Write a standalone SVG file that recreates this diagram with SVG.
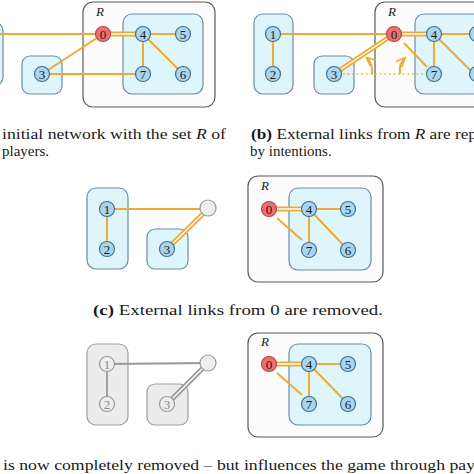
<svg xmlns="http://www.w3.org/2000/svg" width="474" height="474" viewBox="0 0 474 474">
<style>
.rbox{fill:#fcfcfc;stroke:#5a5a5a;stroke-width:1.2}
.bbox{fill:#def6fb;stroke:#6a8ca6;stroke-width:1.2}
.gbox{fill:#ececec;stroke:#a0a0a0;stroke-width:1.2}
.e{stroke:#eeaa33;stroke-width:2;fill:none}
.dbl{stroke:#eeaa33;stroke-width:5;fill:none}
.dblw{stroke:#ffffff;stroke-width:1.4;fill:none}
.ge{stroke:#999999;stroke-width:1.8;fill:none}
.gdbl{stroke:#999999;stroke-width:5;fill:none}
.dot{stroke:#eeaa33;stroke-width:1.6;stroke-dasharray:1.6 3;fill:none}
.n{fill:#a9d5ee;stroke:#45708e;stroke-width:1.2}
.n0{fill:#ef6f6f;stroke:#b84848;stroke-width:1.2}
.ng{fill:#eeeeee;stroke:#9a9a9a;stroke-width:1.2}
.t{font-family:"Liberation Serif","DejaVu Serif",serif;font-size:13px;text-anchor:middle;fill:#1a1a1a}
.tg{font-family:"Liberation Serif","DejaVu Serif",serif;font-size:13px;text-anchor:middle;fill:#8a8a8a}
.R{font-family:"Liberation Serif","DejaVu Serif",serif;font-size:13px;font-style:italic;fill:#1a1a1a}
.cap{font-family:"Liberation Serif","DejaVu Serif",serif;font-size:15px;fill:#1a1a1a}
</style>
<defs>
<marker id="ah" viewBox="0 0 10 10" refX="8" refY="5" markerWidth="5" markerHeight="5" orient="auto">
<path d="M0,1 L9,5 L0,9" fill="none" stroke="#eeaa33" stroke-width="1.6"/>
</marker>
</defs>

<!-- Panel (a) -->
<g id="a-boxes">
<rect class="bbox" x="-40" y="22" width="43" height="64" rx="9"/>
<rect class="rbox" x="83" y="2" width="132" height="105" rx="10"/>
<rect class="bbox" x="123" y="14" width="80" height="80" rx="9"/>
<rect class="bbox" x="22" y="56" width="40" height="38" rx="8"/>
<text class="R" x="96" y="16">R</text>
</g>
<g id="a-connectors">
<line class="e" x1="0" y1="34" x2="103" y2="34"/>
<line class="e" x1="103" y1="34" x2="42" y2="74"/>
<line class="e" x1="42" y1="74" x2="143" y2="74"/>
<line class="dbl" x1="103" y1="34" x2="143" y2="34"/>
<line class="dblw" x1="103" y1="34" x2="143" y2="34"/>
<line class="e" x1="143" y1="34" x2="183" y2="34"/>
<line class="e" x1="143" y1="34" x2="143" y2="74"/>
<line class="e" x1="143" y1="34" x2="183" y2="74"/>
</g>
<g id="a-n0"><circle class="n0" cx="103" cy="34" r="7.5"/><text class="t" x="103" y="38.5">0</text></g>
<g id="a-n4"><circle class="n" cx="143" cy="34" r="7.5"/><text class="t" x="143" y="38.5">4</text></g>
<g id="a-n5"><circle class="n" cx="183" cy="34" r="7.5"/><text class="t" x="183" y="38.5">5</text></g>
<g id="a-n7"><circle class="n" cx="143" cy="74" r="7.5"/><text class="t" x="143" y="78.5">7</text></g>
<g id="a-n6"><circle class="n" cx="183" cy="74" r="7.5"/><text class="t" x="183" y="78.5">6</text></g>
<g id="a-n3"><circle class="n" cx="42" cy="74" r="7.5"/><text class="t" x="42" y="78.5">3</text></g>

<!-- Panel (b) -->
<g id="b-boxes">
<rect class="bbox" x="254" y="14" width="39" height="80" rx="9"/>
<rect class="bbox" x="314" y="56" width="40" height="38" rx="8"/>
<rect class="rbox" x="375" y="2" width="130" height="105" rx="10"/>
<rect class="bbox" x="415" y="14" width="80" height="80" rx="9"/>
<text class="R" x="388" y="16">R</text>
</g>
<g id="b-connectors">
<line class="e" x1="273" y1="34" x2="394" y2="34"/>
<line class="e" x1="273" y1="34" x2="273" y2="74"/>
<line class="dbl" x1="394" y1="34" x2="334" y2="74"/>
<line class="dblw" x1="394" y1="34" x2="334" y2="74"/>
<line class="dbl" x1="394" y1="34" x2="434" y2="34"/>
<line class="dblw" x1="394" y1="34" x2="434" y2="34"/>
<line class="e" x1="434" y1="34" x2="474" y2="34"/>
<line class="e" x1="434" y1="34" x2="434" y2="74"/>
<line class="e" x1="434" y1="34" x2="474" y2="74"/>
<line class="e" x1="404" y1="43" x2="427" y2="67"/>
<line class="dot" x1="343" y1="74" x2="426" y2="74"/>
<path class="e" d="M372,74 C372.5,67 371.5,62 367,58" stroke-width="1.2" marker-end="url(#ah)"/>
<path class="e" d="M400,74 C399.5,67 400,63 404.5,58.5" stroke-width="1.2" marker-end="url(#ah)"/>
</g>
<g id="b-n1"><circle class="n" cx="273" cy="34" r="7.5"/><text class="t" x="273" y="38.5">1</text></g>
<g id="b-n2"><circle class="n" cx="273" cy="74" r="7.5"/><text class="t" x="273" y="78.5">2</text></g>
<g id="b-n3"><circle class="n" cx="334" cy="74" r="7.5"/><text class="t" x="334" y="78.5">3</text></g>
<g id="b-n0"><circle class="n0" cx="394" cy="34" r="7.5"/><text class="t" x="394" y="38.5">0</text></g>
<g id="b-n4"><circle class="n" cx="434" cy="34" r="7.5"/><text class="t" x="434" y="38.5">4</text></g>
<g id="b-n7"><circle class="n" cx="434" cy="74" r="7.5"/><text class="t" x="434" y="78.5">7</text></g>
<g id="b-n5"><circle class="n" cx="477" cy="34" r="7.5"/></g>
<g id="b-n6"><circle class="n" cx="477" cy="74" r="7.5"/></g>

<!-- Captions a, b -->
<text class="cap" x="2" y="139" textLength="224" lengthAdjust="spacingAndGlyphs">initial network with the set <tspan font-style="italic">R</tspan> of</text>
<text class="cap" x="2" y="156">players.</text>
<text class="cap" x="251" y="139" textLength="226" lengthAdjust="spacingAndGlyphs"><tspan font-weight="bold">(b)</tspan> External links from <tspan font-style="italic">R</tspan> are rep</text>
<text class="cap" x="250" y="156">by intentions.</text>

<!-- Panel (c) -->
<g id="c-boxes">
<rect class="bbox" x="87" y="188" width="41" height="81" rx="9"/>
<rect class="bbox" x="147" y="229" width="41" height="40" rx="8"/>
<rect class="rbox" x="248" y="176" width="135" height="106" rx="10"/>
<rect class="bbox" x="289" y="188" width="82" height="82" rx="9"/>
<text class="R" x="261" y="190">R</text>
</g>
<g id="c-connectors">
<line class="e" x1="107" y1="209" x2="208" y2="209"/>
<line class="e" x1="107" y1="209" x2="107" y2="249"/>
<line class="dbl" x1="167" y1="249" x2="208" y2="209"/>
<line class="dblw" x1="167" y1="249" x2="208" y2="209"/>
<line class="dbl" x1="269" y1="209" x2="309" y2="209"/>
<line class="dblw" x1="269" y1="209" x2="309" y2="209"/>
<line class="e" x1="309" y1="209" x2="348" y2="209"/>
<line class="e" x1="309" y1="209" x2="309" y2="250"/>
<line class="e" x1="309" y1="209" x2="348" y2="250"/>
<line class="e" x1="277" y1="218" x2="302" y2="240"/>
</g>
<g id="c-n1"><circle class="n" cx="107" cy="209" r="7.5"/><text class="t" x="107" y="213.5">1</text></g>
<g id="c-n2"><circle class="n" cx="107" cy="249" r="7.5"/><text class="t" x="107" y="253.5">2</text></g>
<g id="c-n3"><circle class="n" cx="167" cy="249" r="7.5"/><text class="t" x="167" y="253.5">3</text></g>
<g id="c-ng"><circle class="ng" cx="208" cy="208" r="8"/></g>
<g id="c-n0"><circle class="n0" cx="269" cy="209" r="7.5"/><text class="t" x="269" y="213.5">0</text></g>
<g id="c-n4"><circle class="n" cx="309" cy="209" r="7.5"/><text class="t" x="309" y="213.5">4</text></g>
<g id="c-n5"><circle class="n" cx="348" cy="209" r="7.5"/><text class="t" x="348" y="213.5">5</text></g>
<g id="c-n7"><circle class="n" cx="309" cy="250" r="7.5"/><text class="t" x="309" y="254.5">7</text></g>
<g id="c-n6"><circle class="n" cx="348" cy="250" r="7.5"/><text class="t" x="348" y="254.5">6</text></g>
<text class="cap" x="93" y="315" textLength="290" lengthAdjust="spacingAndGlyphs"><tspan font-weight="bold">(c)</tspan> External links from 0 are removed.</text>

<!-- Panel (d) -->
<g id="d-boxes">
<rect class="gbox" x="87" y="344" width="41" height="81" rx="9"/>
<rect class="gbox" x="147" y="384" width="41" height="41" rx="8"/>
<rect class="rbox" x="248" y="333" width="135" height="104" rx="10"/>
<rect class="bbox" x="289" y="344" width="82" height="81" rx="9"/>
<text class="R" x="261" y="346">R</text>
</g>
<g id="d-connectors">
<line class="ge" x1="107" y1="364" x2="208" y2="363"/>
<line class="ge" x1="107" y1="364" x2="107" y2="404"/>
<line class="gdbl" x1="167" y1="404" x2="208" y2="363"/>
<line class="dblw" x1="167" y1="404" x2="208" y2="363"/>
<line class="dbl" x1="269" y1="364" x2="309" y2="364"/>
<line class="dblw" x1="269" y1="364" x2="309" y2="364"/>
<line class="e" x1="309" y1="364" x2="348" y2="364"/>
<line class="e" x1="309" y1="364" x2="309" y2="404"/>
<line class="e" x1="309" y1="364" x2="348" y2="404"/>
<line class="e" x1="277" y1="373" x2="302" y2="395"/>
</g>
<g id="d-n1"><circle class="ng" cx="107" cy="364" r="7.5"/><text class="tg" x="107" y="368.5">1</text></g>
<g id="d-n2"><circle class="ng" cx="107" cy="404" r="7.5"/><text class="tg" x="107" y="408.5">2</text></g>
<g id="d-n3"><circle class="ng" cx="167" cy="404" r="7.5"/><text class="tg" x="167" y="408.5">3</text></g>
<g id="d-ng"><circle class="ng" cx="208" cy="363" r="8"/></g>
<g id="d-n0"><circle class="n0" cx="269" cy="364" r="7.5"/><text class="t" x="269" y="368.5">0</text></g>
<g id="d-n4"><circle class="n" cx="309" cy="364" r="7.5"/><text class="t" x="309" y="368.5">4</text></g>
<g id="d-n5"><circle class="n" cx="348" cy="364" r="7.5"/><text class="t" x="348" y="368.5">5</text></g>
<g id="d-n7"><circle class="n" cx="309" cy="404" r="7.5"/><text class="t" x="309" y="408.5">7</text></g>
<g id="d-n6"><circle class="n" cx="348" cy="404" r="7.5"/><text class="t" x="348" y="408.5">6</text></g>
<text class="cap" x="3" y="470" textLength="472" lengthAdjust="spacingAndGlyphs">is now completely removed – but influences the game through pay</text>
</svg>
